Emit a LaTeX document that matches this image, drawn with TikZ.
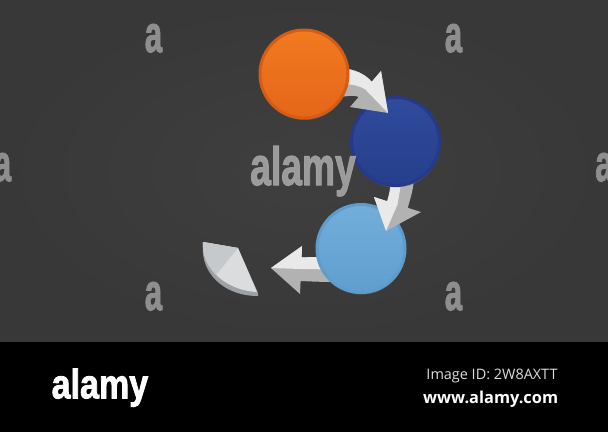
\documentclass[tikz,border=0pt]{standalone}
\usepackage{fontspec}
\usepackage{graphicx}
\usetikzlibrary{shadows}
\newfontfamily\wmfont{Liberation Sans}[BoldFeatures={FakeBold=2.2}]
\newfontfamily\idfont{Open Sans}
\definecolor{bgIn}{HTML}{3F3F3F}
\definecolor{bgOut}{HTML}{383838}
\definecolor{orRim}{HTML}{D65C14}
\definecolor{orTop}{HTML}{F27A20}
\definecolor{orBot}{HTML}{E4661A}
\definecolor{dbRim}{HTML}{26398A}
\definecolor{dbTop}{HTML}{304B9C}
\definecolor{dbBot}{HTML}{263F8C}
\definecolor{lbRim}{HTML}{5E9CCB}
\definecolor{lbTop}{HTML}{72AEDB}
\definecolor{lbBot}{HTML}{609ECF}
\definecolor{arrLight}{HTML}{E9E9E9}
\definecolor{arrDark}{HTML}{B2B2B2}
\definecolor{wedgeEdge}{HTML}{9DA1A5}
\definecolor{wedgeLight}{HTML}{DADCDE}
\definecolor{wedgeMid}{HTML}{C6C9CC}
\definecolor{wmGray}{HTML}{8E8E8E}
\definecolor{wmCenter}{HTML}{A3A3A3}
\definecolor{idGray}{HTML}{DDDDDD}
\tikzset{
  disc/.style={circle,inner sep=0pt,minimum size=88pt,line width=3pt,
    drop shadow={opacity=0.45,shadow xshift=0.5pt,shadow yshift=-2pt}},
  wm/.style={inner sep=0pt,text=wmGray,font=\wmfont\bfseries},
}
\begin{document}
\begin{tikzpicture}[x=1pt,y=-1pt]
\useasboundingbox (0,0) rectangle (608,432);
% background
\shade[inner color=bgIn,outer color=bgOut] (0,0) rectangle (608,342);
\fill[black] (0,342) rectangle (608,432);

% quarter wedge
\fill[wedgeEdge] (203,242) -- (203,247) .. controls (201,271) and (222,296) .. (258,296) -- (258,293) -- (238,248) -- cycle;
\fill[wedgeLight] (203,242) .. controls (201,265) and (222,290) .. (257,292) -- (238,248) -- cycle;
\fill[wedgeMid] (203,242) .. controls (202,253.5) and (206.75,265.5) .. (216.1,274.9) -- (238,248) -- cycle;

% arrow 3 (light blue -> wedge)
\fill[arrDark] (335,257) .. controls (320,257) and (310,257) .. (301.6,257.5) -- (302,246) -- (271,268) -- (300,294) -- (300.6,281) .. controls (312,281.5) and (322,282) .. (335,282) -- cycle;
\fill[arrLight] (335,257) .. controls (320,257) and (310,257) .. (301.6,257.5) -- (302,246) -- (271,268) -- (301,269) -- (335,269.5) -- cycle;

% light blue circle
\node[disc,draw=lbRim,top color=lbTop,bottom color=lbBot] (lightblue) at (361,248.5) {};

% arrow 2 (dark blue -> light blue)
\fill[arrDark] (391,175) .. controls (391,188) and (389,195) .. (387.2,201.2) -- (374,197) -- (386,231) -- (421,212) -- (407.8,207.8) .. controls (411,196) and (414,188) .. (414,175) -- cycle;
\fill[arrLight] (391,175) .. controls (391,188) and (389,195) .. (387.2,201.2) -- (374,197) -- (386,231) -- (397.5,204.5) -- (402.5,175) -- cycle;

% dark blue circle
\node[disc,draw=dbRim,top color=dbTop,bottom color=dbBot] (darkblue) at (395.5,141.5) {};

% arrow 1 (orange -> dark blue)
\fill[arrDark] (340,68) .. controls (356,69) and (366,75) .. (371.7,81.8) -- (381,71) -- (388,113) -- (350,107) -- (358.7,96.9) .. controls (354,95) and (348,96) .. (340,97) -- cycle;
\fill[arrLight] (340,68) .. controls (356,69) and (366,75) .. (371.7,81.8) -- (381,71) -- (388,113) -- (365.2,89.4) .. controls (358,85) and (350,84) .. (340,84) -- cycle;

% orange circle
\node[disc,draw=orRim,top color=orTop,bottom color=orBot] (orange) at (304,74) {};

% watermarks
\node[wm,anchor=base] (wmA) at (153.5,52) {\fontsize{52}{52}\selectfont\scalebox{0.6}[1]{a}};
\node[wm,anchor=base] (wmB) at (453.5,52) {\fontsize{52}{52}\selectfont\scalebox{0.6}[1]{a}};
\node[wm,anchor=base] (wmC) at (2.5,181) {\fontsize{52}{52}\selectfont\scalebox{0.6}[1]{a}};
\node[wm,anchor=base] (wmD) at (604,181) {\fontsize{52}{52}\selectfont\scalebox{0.6}[1]{a}};
\node[wm,anchor=base] (wmE) at (153.5,310) {\fontsize{52}{52}\selectfont\scalebox{0.6}[1]{a}};
\node[wm,anchor=base] (wmF) at (453.5,310) {\fontsize{52}{52}\selectfont\scalebox{0.6}[1]{a}};
\node[wm,anchor=base west,text=wmCenter,opacity=0.92] (wmCenterText) at (250,185) {\fontsize{54}{54}\selectfont\scalebox{0.69}[1]{alamy}};

% footer
\node[inner sep=0pt,anchor=base west,text=white,font=\wmfont\bfseries] (logo) at (51.5,398.3) {\fontsize{41}{41}\selectfont\scalebox{0.83}[1]{alamy}};
\node[inner sep=0pt,anchor=base east,text=idGray,font=\idfont] (imgid) at (557.7,379) {\fontsize{13.6}{15}\selectfont\resizebox{131pt}{!}{Image ID: 2W8AXTT}};
\node[inner sep=0pt,anchor=base east,text=white,font=\idfont\bfseries] (url) at (558.3,403.3) {\fontsize{16}{18}\selectfont\resizebox{135pt}{!}{www.alamy.com}};
\end{tikzpicture}
\end{document}
